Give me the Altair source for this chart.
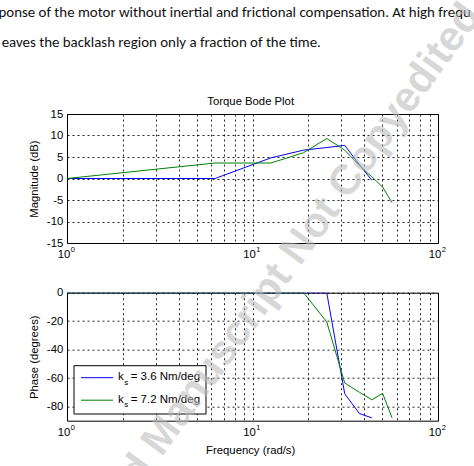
import altair as alt
import pandas as pd

# ---------------- data ----------------
freq = [1.0, 6.283, 12.566, 18.850, 25.133, 31.416, 37.699, 43.982, 50.265, 56.549]
mag_36 = [0.0, 0.0, 4.8, 6.6, 7.2, 7.7, 3.2, -0.4]
mag_72 = [0.0, 3.6, 3.6, 6.0, 9.3, 6.6, 3.0, 0.4, -2.0, -5.6]
phase_36 = [0.0, 0.0, 0.0, 0.0, 0.0, -71.0, -85.0, -88.0]
phase_72 = [0.0, 0.0, 0.0, 0.0, -20.5, -63.5, -70.0, -75.3, -70.8, -88.0]
series = ["3.6 Nm/deg", "7.2 Nm/deg"]
colors = ["#0000ff", "#008000"]
mag_ticks = [-15, -10, -5, 0, 5, 10, 15]
phase_ticks = [-80, -60, -40, -20, 0]
decades = [1, 10, 100]
decade_exps = ["0", "1", "2"]
log_grid = [1, 2, 3, 4, 5, 6, 7, 8, 9, 10, 20, 30, 40, 50, 60, 70, 80, 90, 100]
header_lines = [
    "ponse of the motor without inertial and frictional compensation. At high frequ",
    "eaves the backlash region only a fraction of the time.",
]
plot_title = "Torque Bode Plot"
x_title = "Frequency (rad/s)"
mag_title = "Magnitude (dB)"
phase_title = "Phase (degrees)"
watermark = "Accepted Manuscript Not Copyedited"

# ---------------- tables ----------------
def long_table(values_list):
    rows = []
    for name, vals in zip(series, values_list):
        for f, v in zip(freq, vals):
            rows.append({"freq": f, "value": v, "series": name})
    return pd.DataFrame(rows)

mag_df = long_table([mag_36, mag_72])
phase_df = long_table([phase_36, phase_72])
dec_df = pd.DataFrame({"freq": decades, "base": ["10"] * len(decades), "exp": decade_exps})

FONT = "Liberation Sans, Arial, sans-serif"
FS = 11.3
W, H1, H2 = 371, 129, 128
GAP = 49.7
PAD_L, PAD_T = 67, 114

xscale = alt.Scale(type="log", domain=[1, 100], nice=False)
xaxis = alt.Axis(values=log_grid, grid=True, gridColor="#000", gridDash=[2, 3], gridWidth=1,
                 gridOpacity=0.85, labels=False, ticks=False, tickSize=0, domain=False, title=None)


def xenc():
    return alt.X("freq:Q", scale=xscale, axis=xaxis)


def yaxis(vals, title, h):
    return alt.Axis(values=vals, grid=True, gridColor="#000", gridDash=[2, 3], gridWidth=1,
                    gridOpacity=0.85, ticks=False, tickSize=0, domain=False,
                    labelFont=FONT, labelFontSize=FS, labelColor="#000", labelPadding=4.3,
                    labelOverlap=False, labelExpr="datum.value + ''",
                    title=title, titleFont=FONT, titleFontSize=FS, titleFontWeight="normal",
                    titleColor="#000", titleAngle=270, titleAlign="center", titleBaseline="middle",
                    titleX=-32.5, titleY=h / 2)


color = alt.Color("series:N", scale=alt.Scale(domain=series, range=colors), legend=None)


def decade_labels(h):
    base = alt.Chart(dec_df).mark_text(font=FONT, fontSize=FS, color="#000", align="right",
                                       baseline="alphabetic", dx=3.3).encode(
        x=xenc(), y=alt.value(h + 15.3), text="base:N")
    exp = alt.Chart(dec_df).mark_text(font=FONT, fontSize=7.5, color="#000", align="left",
                                      baseline="alphabetic", dx=3.8).encode(
        x=xenc(), y=alt.value(h + 9.0), text="exp:N")
    return base, exp


def label(text, x, y, **kw):
    return alt.Chart(pd.DataFrame({"t": [text]})).mark_text(**kw).encode(
        text="t:N", x=alt.value(x), y=alt.value(y))


# ---------------- magnitude panel ----------------
mag_lines = alt.Chart(mag_df).mark_line(strokeWidth=1, clip=True).encode(
    x=xenc(),
    y=alt.Y("value:Q", scale=alt.Scale(domain=[-15, 15], nice=False, zero=False),
            axis=yaxis(mag_ticks, mag_title, H1)),
    color=color,
    detail="series:N",
)
b1, e1 = decade_labels(H1)
title_txt = label(plot_title, 183.7, -12.3, font=FONT, fontSize=FS, color="#000",
                  align="center", baseline="middle")
HFONT = "Carlito, Lato, sans-serif"
hdr1 = label(header_lines[0], -68.5, -101.3, font=HFONT, fontSize=14.9,
             color="#111", align="left", baseline="middle")
hdr2 = label(header_lines[1], -65.3, -70.7, font=HFONT, fontSize=14.9,
             color="#111", align="left", baseline="middle")

top = alt.layer(mag_lines, b1, e1, title_txt, hdr1, hdr2).properties(width=W, height=H1)

# ---------------- phase panel ----------------
phase_lines = alt.Chart(phase_df).mark_line(strokeWidth=1, clip=True).encode(
    x=xenc(),
    y=alt.Y("value:Q", scale=alt.Scale(domain=[-90, 0], nice=False, zero=False),
            axis=yaxis(phase_ticks, phase_title, H2)),
    color=color,
    detail="series:N",
)
b2, e2 = decade_labels(H2)
xlab = label(x_title, 183.7, 158, font=FONT, fontSize=FS, color="#000",
             align="center", baseline="middle")

legend_box = alt.Chart(pd.DataFrame({"a": [0]})).mark_rect(
    fill="white", stroke="#000", strokeWidth=1).encode(
    x=alt.value(7), x2=alt.value(139), y=alt.value(73), y2=alt.value(121.3))

legend_layers = [legend_box]
row_y = [85.0, 107.5]
for name, col, yy in zip(series, colors, row_y):
    legend_layers.append(
        alt.Chart(pd.DataFrame({"a": [0]})).mark_rule(color=col, strokeWidth=1).encode(
            x=alt.value(14), x2=alt.value(46), y=alt.value(yy)))
    legend_layers.append(label("k", 51, yy + 2.5, font=FONT, fontSize=11.5, color="#000",
                               align="left", baseline="alphabetic"))
    legend_layers.append(label("s", 57.3, yy + 7.0, font=FONT, fontSize=8, color="#000",
                               align="left", baseline="alphabetic"))
    legend_layers.append(label("= " + name, 63.7, yy + 2.5, font=FONT, fontSize=11.5,
                               color="#000", align="left", baseline="alphabetic"))

wm = label(watermark, 405, -284.7, font=FONT, fontSize=42, fontWeight="bold",
           color="#b8b8b8", opacity=0.55, align="right", baseline="middle", angle=306)

bottom = alt.layer(phase_lines, b2, e2, xlab, *legend_layers, wm).properties(width=W, height=H2)

# autosize "none": the page size is the layout width (W) plus the padding; the layout
# height is not added, so the bottom padding covers the whole remaining height.
chart = alt.vconcat(top, bottom, spacing=GAP, bounds="flush").configure_view(
    stroke="#000", strokeWidth=1
).properties(
    autosize=alt.AutoSizeParams(type="none"),
    padding={"left": PAD_L, "top": PAD_T, "right": 474 - PAD_L - W,
             "bottom": 466 - PAD_T},
    background="white",
)

chart.save("out.html", embed_options={"renderer": "svg", "actions": False})
